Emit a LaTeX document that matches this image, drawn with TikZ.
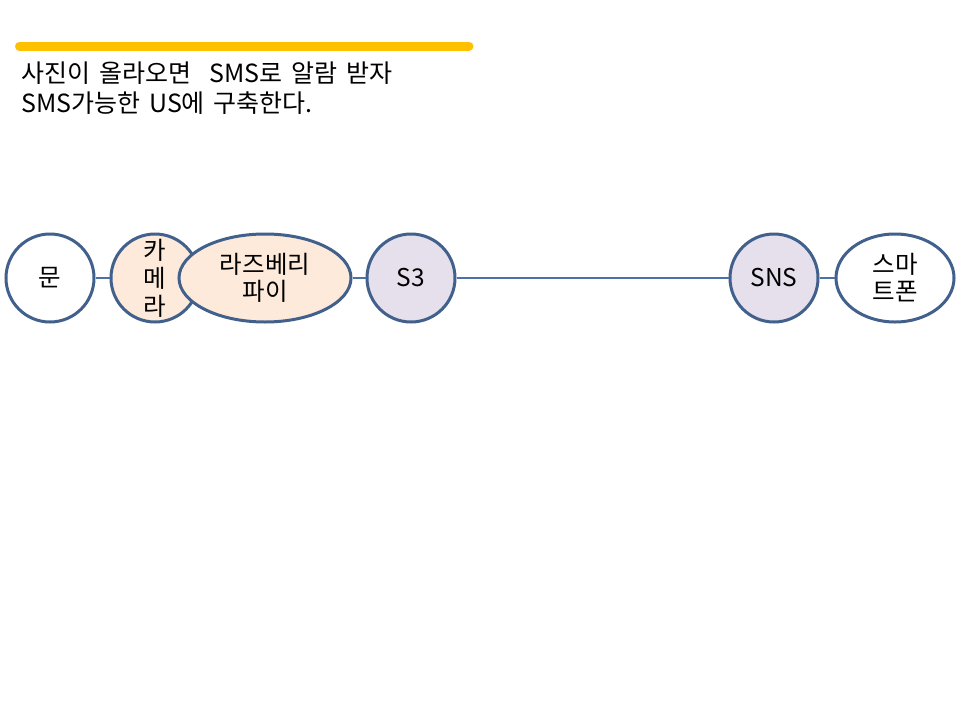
\documentclass[tikz,border=0pt]{standalone}
\usepackage{fontspec}
\setmainfont{Noto Sans CJK KR}
\usetikzlibrary{shapes.geometric}
\definecolor{edgec}{HTML}{41618C}
\definecolor{connc}{HTML}{4A72A8}
\definecolor{peach}{HTML}{FDEADA}
\definecolor{lav}{HTML}{E6E0EC}
\definecolor{barc}{HTML}{FFC000}
\newcommand{\mytitlefont}{\fontsize{25}{30}\selectfont\spaceskip=0.36em plus 0.1em\relax}
\begin{document}
\begin{tikzpicture}[x=1pt,y=-1pt,
 bub/.style={ellipse, draw=edgec, line width=3pt, inner sep=0pt, align=center, font=\fontsize{24.5}{27}\selectfont},
 link/.style={draw=connc, line width=2.5pt}]
\useasboundingbox[fill=white] (0,0) rectangle (960,720);
\draw[barc, line width=9pt, line cap=round] (19.5,46) -- (469,46);
\node[anchor=north west, align=left, inner sep=0pt, font=\mytitlefont] (title) at (21,62) {사진이 올라오면~~SMS로 알람 받자\\SMS가능한 US에 구축한다.};
\node[bub, fill=white, minimum width=88pt, minimum height=88pt] (mun) at (50,278) {문};
\node[bub, fill=peach, minimum width=88pt, minimum height=88pt, inner ysep=-18pt, font=\fontsize{24.5}{28}\selectfont] (cam) at (155,278) {카\\메\\라};
\node[bub, fill=peach, minimum width=172pt, minimum height=88pt] (raspi) at (265,278) {라즈베리\\파이};
\node[bub, fill=lav, minimum width=88pt, minimum height=88pt] (s3) at (411,278) {S3};
\node[bub, fill=lav, minimum width=88pt, minimum height=88pt] (sns) at (774,278) {SNS};
\node[bub, fill=white, minimum width=118pt, minimum height=88pt] (phone) at (895,278) {스마\\트폰};
\draw[link] (mun.east) -- (cam.west);
\draw[link] (raspi.east) -- (s3.west);
\draw[link] (s3.east) -- (sns.west);
\draw[link] (sns.east) -- (phone.west);
\end{tikzpicture}
\end{document}
